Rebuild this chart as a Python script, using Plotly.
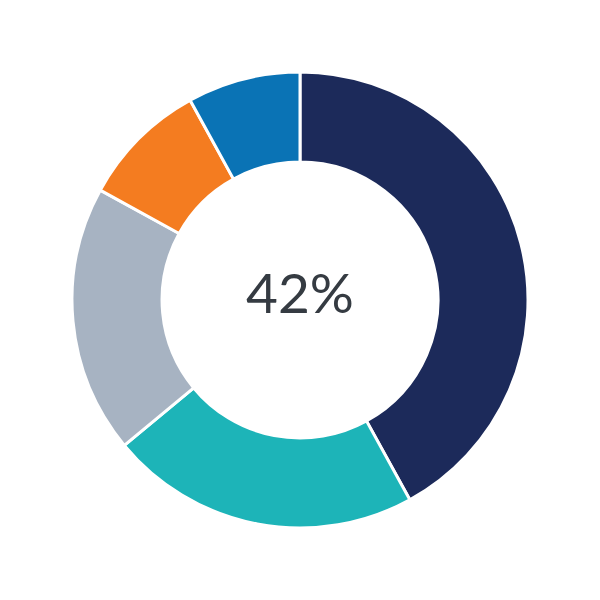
import plotly.graph_objects as go

labels = ["Navy", "Teal", "Gray", "Orange", "Blue"]
values = [42, 22, 19, 9, 8]
colors = ["#1c2a5a", "#1db4b8", "#a7b3c2", "#f47c20", "#0a73b5"]
center_text = "42%"

fig = go.Figure(go.Pie(
    labels=labels,
    values=values,
    hole=0.605,
    sort=False,
    direction="clockwise",
    rotation=0,
    marker=dict(colors=colors, line=dict(color="white", width=3)),
    textinfo="none",
    hoverinfo="label+percent",
))

fig.update_layout(
    width=600, height=600,
    margin=dict(l=64, r=80, t=64, b=80),
    showlegend=False,
    paper_bgcolor="white",
    plot_bgcolor="white",
    annotations=[dict(
        text=center_text, x=0.5, y=0.5, xref="paper", yref="paper",
        showarrow=False, yshift=8,
        font=dict(family="Lato", size=55, color="#353b42"),
    )],
)

fig.write_html("out.html")
